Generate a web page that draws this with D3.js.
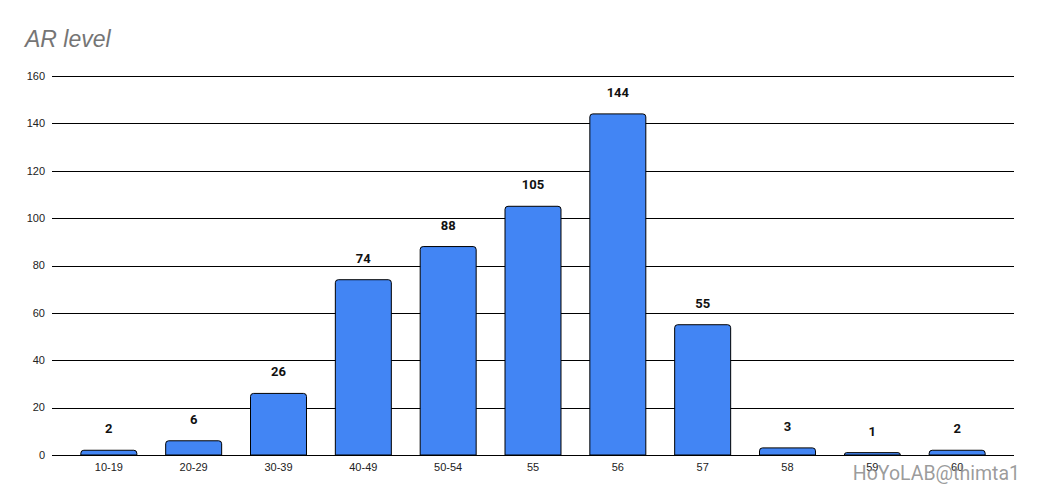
<!DOCTYPE html>
<html>
<head>
<meta charset="utf-8">
<script src="https://cdn.jsdelivr.net/npm/d3@7"></script>
<style>
  body { margin: 0; background: #fff; }
  svg { display: block; font-family: Roboto, "Liberation Sans", sans-serif; }
</style>
</head>
<body>
<script>
// Data
const levels = ["10-19", "20-29", "30-39", "40-49", "50-54", "55", "56", "57", "58", "59", "60"];
const counts = [2, 6, 26, 74, 88, 105, 144, 55, 3, 1, 2];
const yTicks = [0, 20, 40, 60, 80, 100, 120, 140, 160];

const width = 1039, height = 500;
const margin = { top: 76, right: 25, bottom: 45, left: 52 };

const svg = d3.select("body").append("svg")
    .attr("width", width)
    .attr("height", height);

// Title
svg.append("text")
    .attr("x", 25)
    .attr("y", 47)
    .attr("font-family", "'Liberation Sans', Arial, sans-serif")
    .attr("font-size", 23)
    .attr("font-style", "italic")
    .attr("fill", "#757575")
    .text("AR level");

let x = d3.scaleBand()
    .domain(levels)
    .range([margin.left, width - margin.right])
    .paddingInner(0.34)
    .paddingOuter(0.34);

let y = d3.scaleLinear()
    .domain([0, 160])
    .range([height - margin.bottom, margin.top]);

// Gridlines
svg.append("g")
    .selectAll("line")
    .data(yTicks)
    .enter()
    .append("line")
    .attr("x1", margin.left)
    .attr("x2", width - margin.right)
    .attr("y1", d => Math.round(y(d)) + 0.5)
    .attr("y2", d => Math.round(y(d)) + 0.5)
    .attr("stroke", "#000")
    .attr("stroke-width", 1);

// Y tick labels
svg.append("g")
    .selectAll("text")
    .data(yTicks)
    .enter()
    .append("text")
    .attr("x", 45)
    .attr("y", d => y(d))
    .attr("dy", "0.35em")
    .attr("text-anchor", "end")
    .attr("font-family", "'Liberation Sans', Arial, sans-serif")
    .attr("font-size", 11)
    .attr("fill", "#222")
    .text(d => d);

// X tick labels
svg.append("g")
    .selectAll("text")
    .data(levels)
    .enter()
    .append("text")
    .attr("x", d => x(d) + x.bandwidth() / 2)
    .attr("y", height - margin.bottom + 16)
    .attr("text-anchor", "middle")
    .attr("font-family", "'Liberation Sans', Arial, sans-serif")
    .attr("font-size", 11)
    .attr("fill", "#222")
    .text(d => d);

// Bars with rounded top corners
function barPath(x0, y0, w, h, r) {
    r = Math.min(r, h, w / 2);
    return `M${x0},${y0 + h}V${y0 + r}Q${x0},${y0} ${x0 + r},${y0}H${x0 + w - r}Q${x0 + w},${y0} ${x0 + w},${y0 + r}V${y0 + h}Z`;
}

const data = levels.map((l, i) => ({ level: l, count: counts[i] }));

svg.append("g")
    .selectAll("path")
    .data(data)
    .enter()
    .append("path")
    .attr("d", d => barPath(x(d.level), y(d.count), x.bandwidth(), y(0) - y(d.count), 3))
    .attr("fill", "#4285f4")
    .attr("stroke", "#000")
    .attr("stroke-width", 1);

// Value labels
svg.append("g")
    .selectAll("text")
    .data(data)
    .enter()
    .append("text")
    .attr("x", d => x(d.level) + x.bandwidth() / 2)
    .attr("y", d => y(d.count) - 17)
    .attr("text-anchor", "middle")
    .attr("font-size", 13)
    .attr("font-weight", "bold")
    .attr("fill", "#111")
    .text(d => d.count);

// Watermark
svg.append("text")
    .attr("x", 1020)
    .attr("y", 480)
    .attr("text-anchor", "end")
    .attr("font-size", 19.5)
    .attr("fill", "#8a8a8a")
    .attr("fill-opacity", 0.85)
    .text("HoYoLAB@thimta1");
</script>
</body>
</html>
